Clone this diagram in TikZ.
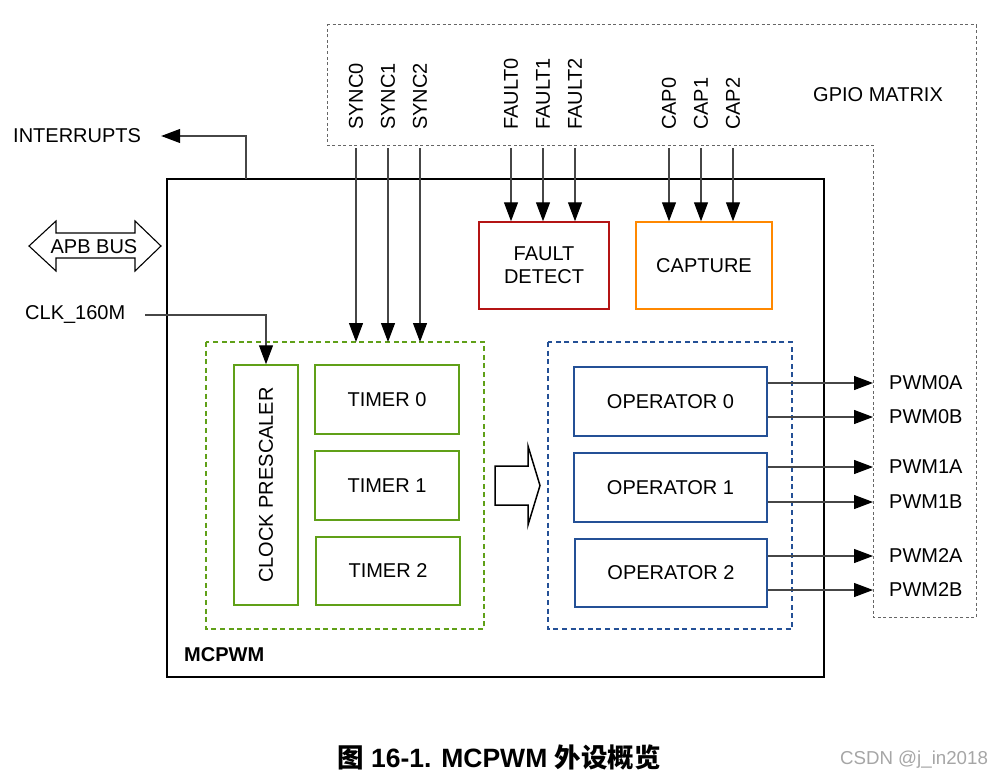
\documentclass[tikz,border=0pt]{standalone}
\usepackage{fontspec}
\setmainfont{Liberation Sans}
\newfontfamily\cjk{Noto Sans CJK SC}
\usetikzlibrary{arrows.meta}
\definecolor{fred}{RGB}{180,20,20}
\definecolor{forange}{RGB}{255,136,0}
\definecolor{fgreen}{RGB}{96,160,24}
\definecolor{fblue}{RGB}{36,80,150}
\definecolor{lgray}{RGB}{70,70,70}
\tikzset{
  txt/.style={inner sep=0pt,font=\fontsize{20}{23}\selectfont},
  blk/.style={txt,draw,line width=1.5pt,align=center},
  arr/.style={draw=lgray,line width=1.2pt,-{Triangle[length=19pt,width=14pt,color=black]}},
  gbox/.style={draw=fgreen,line width=2.2pt,dash pattern=on 5pt off 3.6pt},
  bbox/.style={draw=fblue,line width=2.2pt,dash pattern=on 5pt off 3.6pt},
}
\begin{document}
\begin{tikzpicture}[x=1pt,y=-1pt]
\useasboundingbox (0,0) rectangle (1006,781);
% GPIO matrix outline
\draw[gray!80!black,line width=1pt,dash pattern=on 3pt off 2.5pt]
  (327,25) -- (976,25) -- (976,617) -- (873,617) -- (873,145) -- (327,145) -- cycle;
\node[txt,anchor=west] (gpio) at (813,95) {GPIO MATRIX};
% main box
\draw[line width=2pt] (167,179) rectangle (824,677);
\node[txt,anchor=west,font=\fontsize{20}{23}\selectfont\bfseries] (mcpwm) at (184,655) {MCPWM};
% interrupts
\node[txt,anchor=west] (intr) at (13,136) {INTERRUPTS};
\coordinate (intsrc) at (246,179);
\draw[arr,shorten >=20pt] (intsrc) |- (intr.east);
% APB bus
\draw[line width=1.1pt] (29,246) -- (56,221) -- (56,233) -- (135,233) -- (135,221) -- (161,246)
  -- (135,271) -- (135,258) -- (56,258) -- (56,271) -- cycle;
\node[txt] (apb) at (94,247) {APB BUS};
% clock
\node[txt,anchor=west] (clk) at (25,315) {CLK\_160M};
% green group
\draw[gbox] (206,342) rectangle (484,629);
\coordinate (ggtop) at (356,342);
\node[blk,draw=fgreen,minimum width=64,minimum height=240] (pres) at (266,485) {};
\node[txt,rotate=90] at (pres.center) {CLOCK PRESCALER};
\node[blk,draw=fgreen,minimum width=144,minimum height=69] (t0) at (387,399.5) {TIMER 0};
\node[blk,draw=fgreen,minimum width=144,minimum height=69] (t1) at (387,485.5) {TIMER 1};
\node[blk,draw=fgreen,minimum width=144,minimum height=68] (t2) at (388,571) {TIMER 2};
\draw[arr] ([xshift=20pt]clk.east) -| (pres.north);
% sync
\foreach \n/\x in {0/356,1/388,2/420}{
  \node[txt,rotate=90,anchor=west] (sync\n) at (\x,130) {SYNC\n};
  \coordinate (ss\n) at (\x,148);
  \draw[arr] (ss\n) -- (ss\n |- ggtop);
}
% fault detect & capture
\node[blk,draw=fred,minimum width=130,minimum height=87] (fault) at (544,265.5) {FAULT\\DETECT};
\node[blk,draw=forange,minimum width=136,minimum height=87] (capt) at (704,265.5) {CAPTURE};
\foreach \n/\x in {0/511,1/543,2/575}{
  \node[txt,rotate=90,anchor=west] (fl\n) at (\x,130) {FAULT\n};
  \coordinate (fs\n) at (\x,148);
  \draw[arr] (fs\n) -- (fs\n |- fault.north);
}
\foreach \n/\x in {0/669,1/701,2/733}{
  \node[txt,rotate=90,anchor=west] (cp\n) at (\x,130) {CAP\n};
  \coordinate (cs\n) at (\x,148);
  \draw[arr] (cs\n) -- (cs\n |- capt.north);
}
% hollow arrow
\draw[line width=1.5pt] (495,466) -- (528,466) -- (528,446) -- (540,485.5) -- (528,525) -- (528,505) -- (495,505) -- cycle;
% blue group
\draw[bbox] (548,342) rectangle (792,629);
\node[blk,draw=fblue,minimum width=193,minimum height=69] (op0) at (670.5,401.5) {OPERATOR 0};
\node[blk,draw=fblue,minimum width=193,minimum height=69] (op1) at (670.5,487.5) {OPERATOR 1};
\node[blk,draw=fblue,minimum width=192,minimum height=68] (op2) at (671,573) {OPERATOR 2};
% PWM outputs
\foreach \o/\n/\y in {op0/0A/383,op0/0B/417,op1/1A/467,op1/1B/502,op2/2A/556,op2/2B/590}{
  \node[txt,anchor=west] (pwm\n) at (889,\y) {PWM\n};
  \draw[arr,shorten >=16pt] (\o.east |- pwm\n.west) -- (pwm\n.west);
}
% caption
\node[inner sep=0pt,font=\fontsize{26.5}{30}\selectfont\bfseries] (caption) at (499,757) {{\cjk 图} 16-1. MCPWM {\cjk 外设概览}};
\node[inner sep=0pt,text=gray!70,font=\fontsize{18.7}{21}\selectfont] (wm) at (914,760) {CSDN @j\_in2018};
\end{tikzpicture}
\end{document}
